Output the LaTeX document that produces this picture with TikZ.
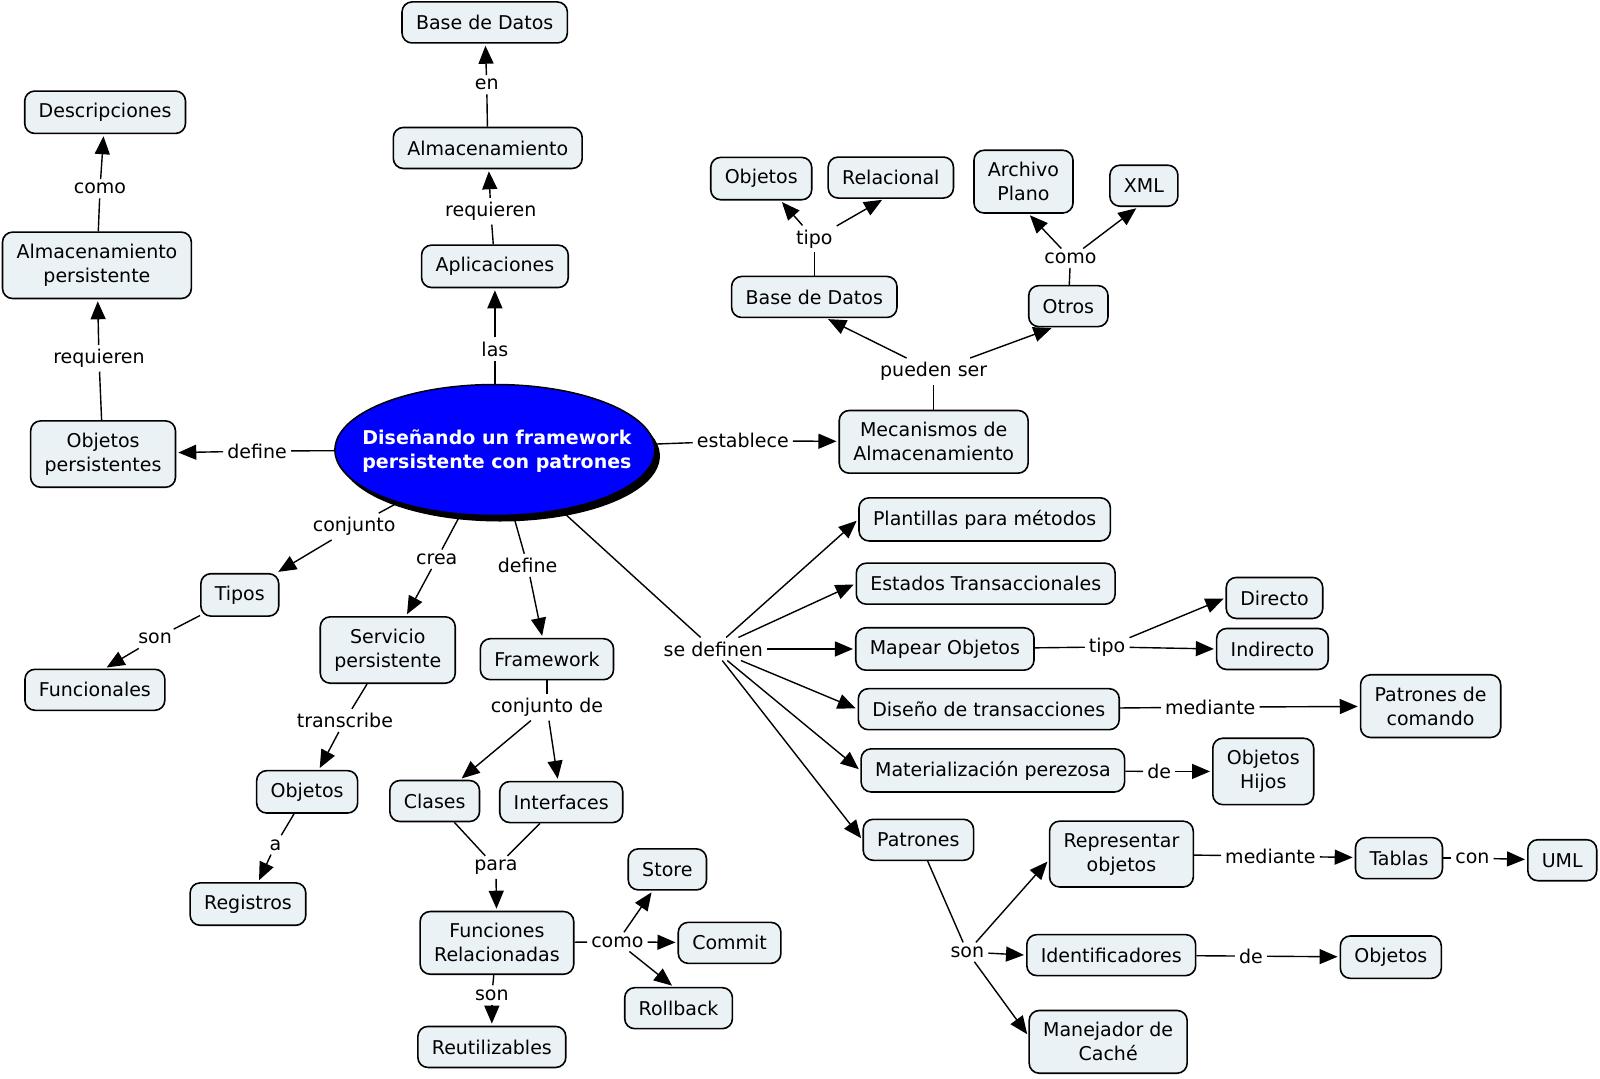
\documentclass[tikz,border=0pt]{standalone}
\usepackage{fontspec}
\setmainfont{DejaVu Sans}
\usetikzlibrary{arrows.meta,shapes.geometric,shadows,calc}
\definecolor{boxfill}{RGB}{234,242,246}
\definecolor{mainblue}{RGB}{0,0,255}
\newcommand{\fsz}{\fontsize{19}{24}\selectfont}
\begin{document}
\begin{tikzpicture}[x=1.0204pt,y=-1.0204pt,
  cbox/.style={draw=black, line width=1.6pt, rounded corners=10pt, fill=boxfill, align=center, inner xsep=14pt, inner ysep=12pt, minimum height=41pt, font=\fsz},
  lbl/.style={inner sep=4pt, font=\fsz},
  conn/.style={line width=1.4pt},
  arr/.style={line width=1.4pt, -{Triangle[length=18pt,width=15pt]}, shorten >=2pt},
  mainnode/.style={ellipse, draw=black, line width=1.5pt, fill=mainblue, minimum width=320pt, minimum height=131pt, inner sep=0pt, drop shadow={shadow xshift=5pt, shadow yshift=-6pt, fill=black, opacity=1}},
  maintext/.style={text=white, font=\fsz\bfseries, align=center, inner sep=0pt}
]
\useasboundingbox (0,0) rectangle (1568,1057.4);

% main
\node[mainnode] (main) at (485,441) {};
\node[maintext] (maintxt) at (487,442) {Diseñando un framework\\persistente con patrones};

% concept boxes
\node[cbox] (bdA) at (475,22) {Base de Datos};
\node[cbox] (desc) at (103,110) {Descripciones};
\node[cbox] (alm) at (478,145) {Almacenamiento};
\node[cbox] (apl) at (485,261) {Aplicaciones};
\node[cbox] (almp) at (95,260) {Almacenamiento\\persistente};
\node[cbox] (objp) at (101,445) {Objetos\\persistentes};
\node[cbox] (objA) at (746,175) {Objetos};
\node[cbox] (rel) at (873,174) {Relacional};
\node[cbox] (arch) at (1003,178) {Archivo\\Plano};
\node[cbox] (xml) at (1121,182) {XML};
\node[cbox] (bdB) at (798,291) {Base de Datos};
\node[cbox] (otros) at (1047,300) {Otros};
\node[cbox] (mec) at (915,433) {Mecanismos de\\Almacenamiento};
\node[cbox] (pla) at (965,509) {Plantillas para métodos};
\node[cbox] (est) at (966,572) {Estados Transaccionales};
\node[cbox] (dir) at (1249,586) {Directo};
\node[cbox] (map) at (926,636) {Mapear Objetos};
\node[cbox] (ind) at (1247,636) {Indirecto};
\node[cbox] (dis) at (969,695) {Diseño de transacciones};
\node[cbox] (patc) at (1402,692) {Patrones de\\comando};
\node[cbox] (mat) at (973,755) {Materialización perezosa};
\node[cbox] (hij) at (1238,756) {Objetos\\Hijos};
\node[cbox] (patr) at (900,823) {Patrones};
\node[cbox] (rep) at (1099,837) {Representar\\objetos};
\node[cbox] (tab) at (1371,841) {Tablas};
\node[cbox] (uml) at (1531,843) {UML};
\node[cbox] (ide) at (1089,936) {Identificadores};
\node[cbox] (objB) at (1363,938) {Objetos};
\node[cbox] (man) at (1086,1021) {Manejador de\\Caché};
\node[cbox] (tip) at (235,583) {Tipos};
\node[cbox] (fun) at (93,676) {Funcionales};
\node[cbox] (ser) at (380,637) {Servicio\\persistente};
\node[cbox] (fw) at (536,646) {Framework};
\node[cbox] (objC) at (301,776) {Objetos};
\node[cbox] (reg) at (243,886) {Registros};
\node[cbox] (cla) at (426,785) {Clases};
\node[cbox] (int) at (550,786) {Interfaces};
\node[cbox] (fr) at (487,924) {Funciones\\Relacionadas};
\node[cbox] (sto) at (654,852) {Store};
\node[cbox] (com) at (715,924) {Commit};
\node[cbox] (rol) at (665,988) {Rollback};
\node[cbox] (reu) at (482,1026) {Reutilizables};

% link labels
\node[lbl] (len) at (477,83) {en};
\node[lbl] (lreqa) at (481,207) {requieren};
\node[lbl] (llas) at (485,342) {las};
\node[lbl] (lcomoa) at (98,185) {como};
\node[lbl] (lreqb) at (97,351) {requieren};
\node[lbl] (ldefa) at (252,442) {define};
\node[lbl] (lest) at (728,432) {establece};
\node[lbl] (lpue) at (915,364) {pueden ser};
\node[lbl] (ltipoa) at (798,234) {tipo};
\node[lbl] (lcomob) at (1049,253) {como};
\node[lbl] (lconj) at (347,516) {conjunto};
\node[lbl] (lsona) at (152,626) {son};
\node[lbl] (lcrea) at (428,548) {crea};
\node[lbl] (ldefb) at (517,554) {define};
\node[lbl] (lsed) at (699,636) {se definen};
\node[lbl] (ltipob) at (1085,634) {tipo};
\node[lbl] (lmeda) at (1186,693) {mediante};
\node[lbl] (ldea) at (1136,756) {de};
\node[lbl] (lsonb) at (948,933) {son};
\node[lbl] (lmedb) at (1245,839) {mediante};
\node[lbl] (lcon) at (1443,841) {con};
\node[lbl] (ldeb) at (1226,937) {de};
\node[lbl] (ltra) at (338,706) {transcribe};
\node[lbl] (la) at (270,828) {a};
\node[lbl] (lcde) at (536,693) {conjunto de};
\node[lbl] (lpara) at (486,850) {para};
\node[lbl] (lcomoc) at (605,923) {como};
\node[lbl] (lsonc) at (482,975) {son};

% connectors
\draw[conn] (alm) -- (len); \draw[arr] (len) -- (bdA);
\draw[conn] (apl) -- (lreqa); \draw[arr] (lreqa) -- (alm);
\draw[conn] (main) -- (llas); \draw[arr] (llas) -- (apl);
\draw[conn] (almp) -- (lcomoa); \draw[arr] (lcomoa) -- (desc);
\draw[conn] (objp) -- (lreqb); \draw[arr] (lreqb) -- (almp);
\draw[conn] (main) -- (ldefa); \draw[arr] (ldefa) -- (objp);
\draw[conn] (main) -- (lest); \draw[arr] (lest) -- (mec);
\draw[conn] (mec) -- (lpue);
\draw[arr] (lpue) -- ([xshift=12pt]bdB.south);
\draw[arr] (lpue) -- ([xshift=-15pt]otros.south);
\draw[conn] (bdB) -- (ltipoa);
\draw[arr] (ltipoa) -- (objA);
\draw[arr] (ltipoa) -- ([xshift=-7pt]rel.south);
\draw[conn] (otros) -- (lcomob);
\draw[arr] (lcomob) -- ([xshift=5pt]arch.south);
\draw[arr] (lcomob) -- ([xshift=-6pt]xml.south);
\draw[conn] (main) -- (lconj); \draw[arr] (lconj) -- (tip);
\draw[conn] (tip) -- (lsona); \draw[arr] (lsona) -- ([xshift=10pt]fun.north);
\draw[conn] (main) -- (lcrea); \draw[arr] (lcrea) -- (ser);
\draw[conn] (main) -- (ldefb); \draw[arr] (ldefb) -- (fw);
\draw[conn] (main) -- (lsed);
\draw[arr] (lsed) -- (pla.west);
\draw[arr] (lsed) -- (est.west);
\draw[arr] (lsed) -- (map.west);
\draw[arr] (lsed) -- (dis.west);
\draw[arr] (lsed) -- (mat.west);
\draw[arr] (lsed) -- (patr.west);
\draw[conn] (map) -- (ltipob);
\draw[arr] (ltipob) -- (dir.west);
\draw[arr] (ltipob) -- (ind.west);
\draw[conn] (dis) -- (lmeda); \draw[arr] (lmeda) -- (patc);
\draw[conn] (mat) -- (ldea); \draw[arr] (ldea) -- (hij);
\draw[conn] (patr) -- (lsonb);
\draw[arr] (lsonb) -- ([yshift=-6pt]rep.west);
\draw[arr] (lsonb) -- (ide.west);
\draw[arr] (lsonb) -- ([yshift=6pt]man.west);
\draw[conn] (rep) -- (lmedb); \draw[arr] (lmedb) -- (tab);
\draw[conn] (tab) -- (lcon); \draw[arr] (lcon) -- (uml);
\draw[conn] (ide) -- (ldeb); \draw[arr] (ldeb) -- (objB);
\draw[conn] (ser) -- (ltra); \draw[arr] (ltra) -- (objC);
\draw[conn] (objC) -- (la); \draw[arr] (la) -- (reg);
\draw[conn] (fw) -- (lcde);
\draw[arr] (lcde) -- (cla);
\draw[arr] (lcde) -- (int);
\draw[conn] (cla) -- (lpara);
\draw[conn] (int) -- (lpara);
\draw[arr] (lpara) -- (fr);
\draw[conn] (fr) -- (lcomoc);
\draw[arr] (lcomoc) -- (sto);
\draw[arr] (lcomoc) -- (com);
\draw[arr] (lcomoc) -- ([xshift=-5pt]rol.north);
\draw[conn] (fr) -- (lsonc); \draw[arr] (lsonc) -- (reu);
\end{tikzpicture}
\end{document}
